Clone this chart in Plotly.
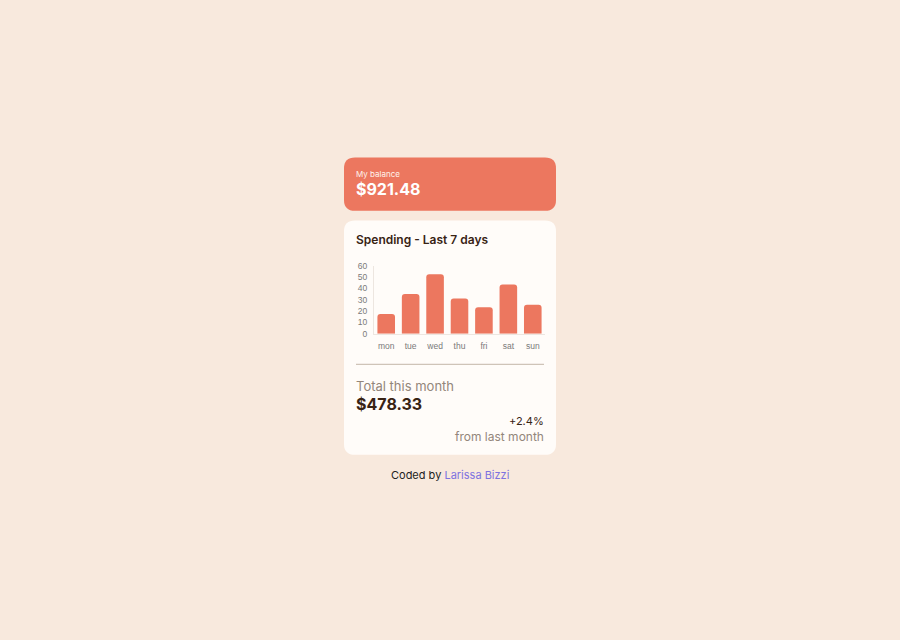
import plotly.graph_objects as go

days = ["mon", "tue", "wed", "thu", "fri", "sat", "sun"]
amounts = [17.45, 34.91, 52.36, 31.07, 23.39, 43.28, 25.48]
y_ticks = [0, 10, 20, 30, 40, 50, 60]
balance_label = "My balance"
balance_value = "$921.48"
chart_title = "Spending - Last 7 days"
total_label = "Total this month"
total_value = "$478.33"
change_value = "+2.4%"
change_label = "from last month"

W, H = 900, 640
BG = "#F8E9DD"
SALMON = "#EC775F"
DARK = "#382314"
MUTED = "#93867B"
FONT = "Inter, 'DejaVu Sans', sans-serif"
TICKFONT = "'Liberation Sans', Arial, sans-serif"


def px(x):
    return x / W


def py(y):
    return 1 - y / H


def rounded_rect(x0, y0, x1, y1, r):
    rx, ry = r / W, r / H
    X0, X1 = px(x0), px(x1)
    Y0, Y1 = py(y0), py(y1)
    return (
        f"M {X0 + rx},{Y0} L {X1 - rx},{Y0} Q {X1},{Y0} {X1},{Y0 - ry} "
        f"L {X1},{Y1 + ry} Q {X1},{Y1} {X1 - rx},{Y1} "
        f"L {X0 + rx},{Y1} Q {X0},{Y1} {X0},{Y1 + ry} "
        f"L {X0},{Y0 - ry} Q {X0},{Y0} {X0 + rx},{Y0} Z"
    )


fig = go.Figure()
fig.add_trace(
    go.Bar(
        x=days,
        y=amounts,
        marker=dict(color=SALMON, line=dict(width=0)),
        hoverinfo="skip",
    )
)

shapes = [
    dict(type="path", xref="paper", yref="paper", path=rounded_rect(344, 155, 556, 209, 11),
         fillcolor=SALMON, line=dict(width=0), layer="below"),
    dict(type="path", xref="paper", yref="paper", path=rounded_rect(344, 219, 556, 457, 11),
         fillcolor="#FFFCF9", line=dict(width=0), layer="below"),
    dict(type="line", xref="paper", yref="paper", x0=px(356), x1=px(544), y0=py(365), y1=py(365),
         line=dict(color="#C4B6A8", width=1)),
]

ann = []


def text(x, y, s, size, color, anchor="left", weight="normal", font=FONT):
    dx = {"left": -2, "right": 2, "center": 0}[anchor]
    ann.append(dict(
        x=px(x + dx), y=py(y), xref="paper", yref="paper", text=s,
        showarrow=False, xanchor=anchor, yanchor="middle",
        font=dict(family=font, size=size, color=color, weight=weight),
    ))


text(356, 172, balance_label, 8, "#FFF3EC")
text(356, 187, balance_value, 16, "#FFFFFF", weight=700)
text(356, 238.5, chart_title, 12, DARK, weight=600)
text(356, 387, total_label, 13, MUTED)
text(356, 405.5, total_value, 16, DARK, weight=700)
text(544, 422.5, change_value, 11, DARK, anchor="right")
text(544, 438, change_label, 12, MUTED, anchor="right")
text(450, 477, "Coded by <span style='color:#7E72E0'>Larissa Bizzi</span>", 11, "#222222", anchor="center")

fig.update_layout(
    width=W, height=H,
    margin=dict(l=0, r=0, t=0, b=0),
    paper_bgcolor=BG,
    plot_bgcolor="rgba(0,0,0,0)",
    showlegend=False,
    bargap=0.28,
    barcornerradius=3,
    shapes=shapes,
    annotations=ann,
    xaxis=dict(
        domain=[px(374), px(545)],
        showgrid=False, zeroline=False,
        showline=True, linecolor="#EDE6E0", linewidth=1,
        ticks="", ticklabelstandoff=4,
        tickfont=dict(family=TICKFONT, size=8.5, color="#7A7A7A"),
        fixedrange=True,
    ),
    yaxis=dict(
        domain=[py(334), py(264.7)],
        range=[0, 60],
        tickvals=y_ticks,
        showgrid=False, zeroline=False,
        showline=True, linecolor="#EDE6E0", linewidth=1,
        ticks="", ticklabelstandoff=4,
        tickfont=dict(family=TICKFONT, size=8.5, color="#7A7A7A"),
        fixedrange=True,
    ),
)

fig.write_html(
    "out.html",
    config={"displayModeBar": False},
    post_script="document.body.style.margin='0';document.body.style.background='#F8E9DD';document.body.style.overflow='hidden';",
)
